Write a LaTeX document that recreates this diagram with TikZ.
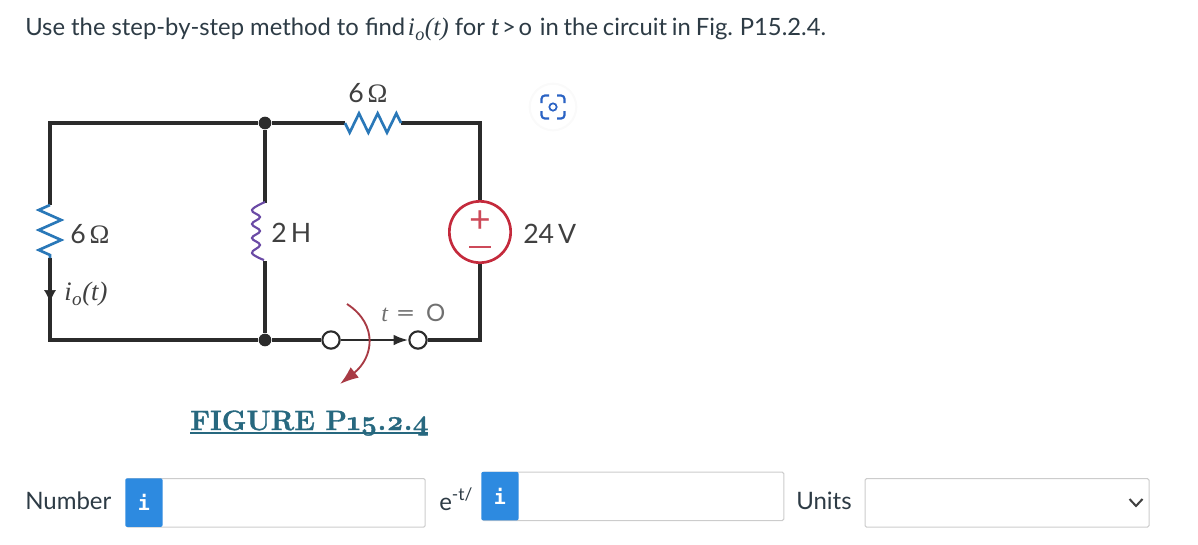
\documentclass[tikz,border=0pt]{standalone}
\usepackage{fontspec}
\setmainfont{Lato}
\newfontfamily\serfont{Liberation Serif}
\newfontfamily\monofont{DejaVu Sans Mono}
\newfontfamily\capfont{Latin Modern Roman}[Numbers=OldStyle, BoldFeatures={FakeBold=1.2}]
\usepackage{tikz}
\usetikzlibrary{arrows.meta,decorations.pathmorphing}
\definecolor{wirecol}{HTML}{2B2B2B}
\definecolor{rescol}{HTML}{2A78B8}
\definecolor{indcol}{HTML}{6A4AA5}
\definecolor{srccol}{HTML}{C42A3C}
\definecolor{swcol}{HTML}{A83A44}
\definecolor{capcol}{HTML}{27687F}
\definecolor{txtcol}{HTML}{2D3B45}
\definecolor{labcol}{HTML}{404040}
\definecolor{btncol}{HTML}{2D8AE0}
\definecolor{boxcol}{HTML}{CCCCCC}
\definecolor{iconcol}{HTML}{2B63C4}
\newcommand{\ioft}{{\serfont\itshape i\kern.02em\raisebox{-.2em}{\scalebox{.72}{o}}\kern.02em(t)}}
\newcommand{\ohm}{{\serfont Ω}}
\tikzset{
  wire/.style={draw=wirecol, line width=2.4pt},
  reszig/.style={draw=rescol, line width=2pt, decorate},
  ind/.style={draw=indcol, line width=1.6pt},
  junction/.style={circle, fill=wirecol, inner sep=0pt, minimum size=9.5pt},
  terminal/.style={circle, draw=wirecol, line width=1.6pt, fill=white, inner sep=0pt, minimum size=13pt},
  source/.style={circle, draw=srccol, line width=2pt, fill=white, inner sep=0pt, minimum size=46pt},
  lab/.style={text=labcol, font=\fontsize{20}{22}\selectfont, inner sep=0pt, anchor=base west},
  txt/.style={text=txtcol, font=\fontsize{18}{22}\selectfont, inner sep=0pt, anchor=base west},
  field/.style={draw=boxcol, line width=0.8pt, fill=white, rounded corners=1.2pt, minimum height=36.5pt, inner sep=0pt, anchor=north west},
  btn/.style={fill=btncol, rounded corners=1.5pt, inner sep=0pt, text=white, anchor=north west,
    minimum width=28pt, minimum height=36.5pt, font=\monofont\bfseries\fontsize{15}{15}\selectfont}
}
\begin{document}
\begin{tikzpicture}[x=0.75pt, y=-0.75pt]
	\useasboundingbox (0,0) rectangle (1198,544);

	% question
	\node [txt, font=\fontsize{17.85}{22}\selectfont] (question) at (25,35) {Use the step-by-step method to find\hspace{2pt}{\fontsize{19}{22}\selectfont\ioft}\hspace{4.5pt}for {\spaceskip=2pt\relax \textit{t} > o\hspace{5.75pt}}{\spaceskip=3.65pt\relax in the circuit in Fig. P15.2.4.}};

	% circuit corners
	\coordinate (topleft) at (50,123);
	\coordinate (botleft) at (50,340);
	\coordinate (topright) at (480,123);
	\coordinate (botright) at (480,340);
	\coordinate (resleftA) at (50,205);
	\coordinate (resleftB) at (50,258);
	\coordinate (restopA) at (345,123);
	\coordinate (restopB) at (401,123);
	\coordinate (indA) at (265,203);
	\coordinate (indB) at (265,261);
	\node [junction] (juncT) at (265,123) {};
	\node [junction] (juncB) at (265,340) {};
	\node [source] (src) at (480,232) {};
	\node [terminal] (swA) at (331,340) {};
	\node [terminal] (swB) at (418,340) {};

	\draw [wire] (resleftA) -- (topleft) -- (juncT);
	\draw [wire] (juncT) -- (restopA);
	\draw [wire] (restopB) -- (topright) -- (src);
	\draw [wire] (src) -- (botright) -- (swB);
	\draw [wire] (swA) -- (juncB) -- (botleft) -- (resleftB);
	\draw [wire] (juncT) -- (indA);
	\draw [wire] (indB) -- (juncB);
	\draw [wire, line width=1.8pt, -{Latex[length=11pt,width=8pt]}] (swA) -- (swB);

	% resistors
	\draw [reszig, decoration={zigzag, segment length=15pt, amplitude=8.4pt, mirror}] (resleftA) -- (resleftB);
	\draw [reszig, decoration={zigzag, segment length=14pt, amplitude=7.2pt, mirror}] (restopA) -- (restopB);

	% inductor
	\draw [ind] plot [smooth, tension=0.7] coordinates {(265,202) (252,210) (260,217) (252,224) (260,231) (252,238) (260,245) (252,253) (264,260)};

	% source signs
	\node [text=srccol!85, font=\fontsize{28}{28}\selectfont, inner sep=0pt] (plus) at (480,222) {+};
	\node [fill=srccol!85, minimum width=16pt, minimum height=1.3pt, inner sep=0pt] (minus) at (480,247) {};

	% current arrow
	\coordinate (arrowtip) at (50,302);
	\draw [wirecol, -{Latex[length=9pt,width=9pt]}] (50,288) -- (arrowtip);

	% switch arrow
	\coordinate (arcA) at (347,304);
	\coordinate (arcB) at (340,384);
	\draw [swcol, line width=1.4pt, -{Latex[length=14pt,width=10pt]}] (arcA) .. controls (379,325) and (373,358) .. (arcB);

	% labels
	\node [lab] (res1lab) at (70,243) {6\hspace{3pt}\ohm};
	\node [lab] (res2lab) at (348,102) {6\hspace{3pt}\ohm};
	\node [lab] (indlab) at (271,242) {2\hspace{-2pt} H};
	\node [lab] (srclab) at (523,243) {24\hspace{3pt}V};
	\node [lab, text=labcol!75, font=\fontsize{18}{20}\selectfont] (swlab) at (381,321) {{\serfont\itshape t}\hspace{6pt}\scalebox{1.4}[1]{=}\hspace{8pt}O};
	\node [lab, font=\fontsize{20}{22}\selectfont] (ilab) at (64,300) {\ioft};

	% caption
	\node [inner sep=0pt, anchor=base west, text=capcol, font=\capfont\bfseries\fontsize{21}{24}\selectfont] (caption) at (190,430) {FIGURE P15.2.4};
	\coordinate (capA) at (190,433);
	\coordinate (capB) at (428,433);
	\draw [capcol, line width=1.1pt] (capA) -- (capB);

	% camera badge
	\node [circle, draw=black!2, line width=1.5pt, fill=white, minimum size=35pt, inner sep=0pt] (badge) at (553,107) {};
	\node [circle, draw=iconcol, line width=1.3pt, minimum size=5.5pt, inner sep=0pt] (lens) at (553,107) {};
	\foreach \sx/\sy in {-1/-1,1/-1,-1/1,1/1}
		\draw [iconcol, line width=1.6pt, rounded corners=2.5pt] (553+\sx*11.5,107+\sy*4) -- (553+\sx*11.5,107+\sy*11.5) -- (553+\sx*4,107+\sy*11.5);

	% answer row
	\node [txt] (numlab) at (25,509) {Number};
	\node [field, minimum width=224pt] (numfield) at (126,478) {};
	\node [btn] (numbtn) at (125,478) {i};
	\node [txt] (explab) at (439,510) {e\raisebox{7pt}{\fontsize{13}{14}\selectfont -t/}};
	\node [field, minimum width=226pt] (expfield) at (482,471.5) {};
	\node [btn] (expbtn) at (481,471.5) {i};
	\node [txt] (unitlab) at (796,509) {Units};
	\node [field, minimum width=213pt] (unitfield) at (864.5,478) {};
	\coordinate (chevA) at (1129.5,499);
	\coordinate (chevB) at (1136,506);
	\coordinate (chevC) at (1142.5,499);
	\draw [labcol, line width=1.5pt] (chevA) -- (chevB) -- (chevC);
\end{tikzpicture}
\end{document}
